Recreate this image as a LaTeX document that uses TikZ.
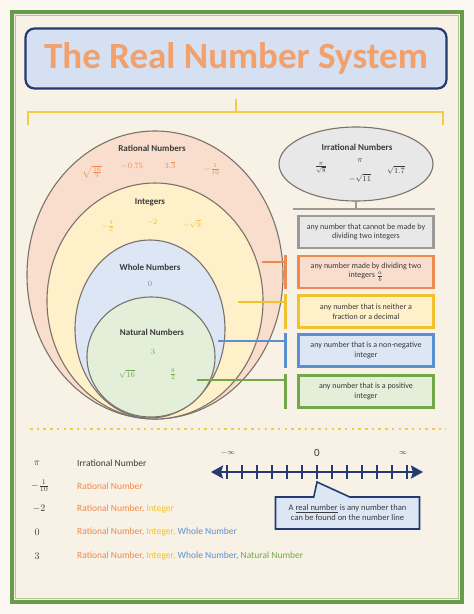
\documentclass[tikz,border=0pt]{standalone}
\usepackage{fontspec}
\setmainfont{Carlito}
\usetikzlibrary{shapes.geometric,shapes.callouts,arrows.meta}
\definecolor{paper}{HTML}{FBF8F1}
\definecolor{cream}{HTML}{F7F2E5}
\definecolor{frame}{HTML}{6A9B4C}
\definecolor{framein}{HTML}{A9C98F}
\definecolor{navy}{HTML}{233B70}
\definecolor{titlefill}{HTML}{D5E0F2}
\definecolor{titletext}{HTML}{F2A06C}
\definecolor{ratfill}{HTML}{F9DDCD}
\definecolor{intfill}{HTML}{FEF0C9}
\definecolor{wholefill}{HTML}{DCE6F4}
\definecolor{natfill}{HTML}{E3EFD9}
\definecolor{irrfill}{HTML}{E8E8E8}
\definecolor{ratcol}{HTML}{EE8A4E}
\definecolor{intcol}{HTML}{F2C12E}
\definecolor{wholecol}{HTML}{5B8FD3}
\definecolor{natcol}{HTML}{72A84A}
\definecolor{irrcol}{HTML}{9A9A9A}
\definecolor{ring}{HTML}{7A736B}
\definecolor{ink}{HTML}{3A3A3A}
\definecolor{gold}{HTML}{F3CC45}
\newcommand\fsz[2]{\fontsize{#1}{#2}\selectfont}

\begin{document}
\begin{tikzpicture}[x=1pt,y=-1pt,
  venn/.style={ellipse,draw=ring,line width=1.1pt,inner sep=0pt},
  lbl/.style={font=\fsz{9}{10}\bfseries,text=ink},
  val/.style={font=\fsz{8}{9}},
  desc/.style={draw,line width=2.2pt,minimum width=135pt,minimum height=32pt,align=center,font=\fsz{8}{9.5},text=ink,inner sep=1pt},
  link/.style={line width=2.2pt},
  key/.style={anchor=west,inner sep=0pt,font=\fsz{9.5}{11}}]
\useasboundingbox (0,0) rectangle (474,614);
\fill[paper] (0,0) rectangle (474,614); \fill[cream] (12,12) rectangle (462,602);
\draw[frame,line width=3.5pt] (12,12) rectangle (462,602); \draw[framein,line width=1.2pt] (15.8,15.8) rectangle (458.2,598.2);

\node[draw=navy,line width=2.2pt,fill=titlefill,rounded corners=9pt,minimum width=421pt,minimum height=60pt,font=\fsz{37}{40}\bfseries,text=titletext] (title) at (236,58.5) {The Real Number System};

\coordinate (brL) at (28,125); \coordinate (brR) at (443,125); \coordinate (brmid) at (236,112); \coordinate (brtop) at (236,99);
\draw[gold,line width=2.2pt] (brL) |- (brmid) -| (brR); \draw[gold,line width=2.2pt] (brtop) -- (brmid);

\node[venn,fill=ratfill,minimum width=256pt,minimum height=288pt] (rat) at (155,275) {};
\node[venn,fill=intfill,minimum width=216pt,minimum height=236pt] (int) at (155,301) {};
\node[venn,fill=wholefill,minimum width=150pt,minimum height=178pt] (whole) at (150,329) {};
\node[venn,fill=natfill,minimum width=128pt,minimum height=120pt] (nat) at (151,357) {};

\node[lbl] (ratlbl) at (152,148) {Rational Numbers};
\node[val,text=ratcol] (rat1) at (92,172) {$\sqrt{\frac{16}{9}}$}; \node[val,text=ratcol] (rat2) at (132,166) {$-0.75$};
\node[val,text=ratcol] (rat3) at (170,165) {$3.\overline{3}$}; \node[val,text=ratcol] (rat4) at (212,169) {$-\frac{1}{10}$};
\node[lbl] (intlbl) at (150,202) {Integers};
\node[val,text=intcol] (int1) at (108,226) {$-\frac{4}{2}$}; \node[val,text=intcol] (int2) at (152,222) {$-2$}; \node[val,text=intcol] (int3) at (192,224) {$-\sqrt{9}$};
\node[lbl] (wholelbl) at (150,267) {Whole Numbers}; \node[val,text=wholecol] (whole1) at (150,284) {$0$};
\node[lbl] (natlbl) at (152,332) {Natural Numbers}; \node[val,text=natcol] (nat1) at (153,352) {$3$};
\node[val,text=natcol] (nat2) at (127,374) {$\sqrt{16}$}; \node[val,text=natcol] (nat3) at (173,374) {$\frac{8}{2}$};

\node[venn,fill=irrfill,minimum width=154pt,minimum height=74pt] (irr) at (356,164) {};
\node[lbl] (irrlbl) at (357,147) {Irrational Numbers};
\node[val,text=ink] (irr1) at (321,168) {$\frac{\pi}{\sqrt{8}}$}; \node[val,text=ink] (irr2) at (360,161) {$\pi$};
\node[val,text=ink] (irr3) at (360,178) {$-\sqrt{11}$}; \node[val,text=ink] (irr4) at (396,170) {$\sqrt{1.7}$};
\coordinate (irrbarL) at (293,209); \coordinate (irrbarR) at (435,209);
\draw[irrcol,line width=1.6pt] (irr.south) -- (irr.south |- irrbarL); \draw[irrcol,line width=1.6pt] (irrbarL) -- (irrbarR);

\node[desc,draw=irrcol,fill=irrfill] (irrbox) at (366,232) {any number that cannot be made by\\dividing two integers};
\node[desc,draw=ratcol,fill=ratfill] (ratbox) at (366,272) {any number made by dividing two\\integers $\frac{a}{b}$};
\node[desc,draw=intcol,fill=intfill] (intbox) at (366,311.5) {any number that is neither a\\fraction or a decimal};
\node[desc,draw=wholecol,fill=wholefill] (wholebox) at (366,350.5) {any number that is a non-negative\\integer};
\node[desc,draw=natcol,fill=natfill] (natbox) at (366,391.5) {any number that is a positive\\integer};

\coordinate (ratpt) at (262,262); \coordinate (intpt) at (238,302); \coordinate (wholept) at (218,341); \coordinate (natpt) at (197,380);
\foreach \n/\c in {rat/ratcol,int/intcol,whole/wholecol,nat/natcol}{
  \coordinate (\n bar) at ([xshift=-12pt]\n box.west);
  \draw[link,\c] ([xshift=-12pt]\n box.north west) -- ([xshift=-12pt]\n box.south west);
  \draw[link,\c] (\n pt) -- (\n pt -| \n bar);}

\coordinate (dotL) at (30,429); \coordinate (dotR) at (446,429);
\draw[gold,line width=2.5pt,dash pattern=on 2.5pt off 4.2pt] (dotL) -- (dotR);

\node[font=\fsz{10}{12},text=ink] (ex1) at (37,463) {$\pi$}; \node[font=\fsz{10}{12},text=ink] (ex2) at (40,486) {$-\frac{1}{10}$};
\node[font=\fsz{10}{12},text=ink] (ex3) at (39,509) {$-2$}; \node[font=\fsz{10}{12},text=ink] (ex4) at (37,532) {$0$};
\node[font=\fsz{10}{12},text=ink] (ex5) at (37,556) {$3$};
\node[key,text=ink] (cl1) at (77,463) {Irrational Number};
\node[key,text=ratcol] (cl2) at (77,486) {Rational Number};
\node[key] (cl3) at (77,509) {\textcolor{ratcol}{Rational Number,} \textcolor{intcol}{Integer}};
\node[key] (cl4) at (77,532) {\textcolor{ratcol}{Rational Number,} \textcolor{intcol}{Integer,} \textcolor{wholecol}{Whole Number}};
\node[key] (cl5) at (77,556) {\textcolor{ratcol}{Rational Number,} \textcolor{intcol}{Integer,} \textcolor{wholecol}{Whole Number,} \textcolor{natcol}{Natural Number}};

\coordinate (zero) at (317,472); \coordinate (nlL) at (211,472); \coordinate (nlR) at (423,472); \coordinate (ptr) at (317,482);
\draw[navy,line width=2.8pt,{Stealth[length=12pt,width=13pt,inset=2pt]}-{Stealth[length=12pt,width=13pt,inset=2pt]}] (nlL) -- (nlR);
\foreach \i in {-6,...,6} \draw[navy,line width=2.4pt] (317+15*\i,465) -- (317+15*\i,479);
\node[font=\fsz{7}{8},text=ink] (minf) at (228,453) {$-\infty$}; \node[font=\fsz{11}{12},text=ink] (zlbl) at (317,453) {0};
\node[font=\fsz{7}{8},text=ink] (pinf) at (403,453) {$\infty$};
\node[rectangle callout,draw=navy,fill=wholefill,line width=1.6pt,minimum width=144pt,minimum height=32pt,callout absolute pointer={(ptr)},callout pointer width=36pt,align=center,font=\fsz{8.5}{10},text=ink] (callout) at (347.5,513) {A \underline{real number} is any number than\\can be found on the number line};
\end{tikzpicture}
\end{document}
